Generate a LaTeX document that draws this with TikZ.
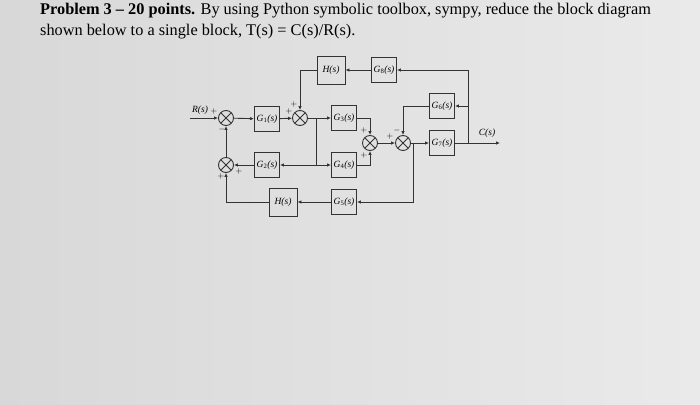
\documentclass[tikz,border=0pt]{standalone}
\usepackage{fontspec}
\setmainfont{Liberation Serif}
\usetikzlibrary{arrows.meta,calc}
\definecolor{ln}{HTML}{333333}
\definecolor{bgL}{HTML}{D8D8D8}
\definecolor{bgR}{HTML}{EAEAEA}
\tikzset{
  blk/.style={rectangle, draw=ln, line width=0.9pt, inner sep=0pt, minimum width=25pt, minimum height=25pt, font=\fontsize{9.5}{10}\selectfont},
  hblk/.style={blk, minimum width=28pt, minimum height=28pt},
  sum/.style={circle, draw=ln, line width=0.9pt, inner sep=0pt, minimum size=15pt,
    path picture={\draw[ln, line width=0.9pt] (path picture bounding box.north west) -- (path picture bounding box.south east)
      (path picture bounding box.north east) -- (path picture bounding box.south west);}},
  sig/.style={inner sep=0pt, font=\fontsize{8}{9}\selectfont},
  lbl/.style={inner sep=1pt, font=\fontsize{9.5}{10}\selectfont},
  ar/.style={draw=ln, line width=0.9pt, -{Latex[length=4pt,width=3.5pt]}},
}
\newcommand{\tf}[2]{\textit{#1}\textsubscript{#2}\textit{(s)}}

\begin{document}
\begin{tikzpicture}[x=1pt, y=-1pt]
  \useasboundingbox (0,0) rectangle (700,404);
  \shade[left color=bgL, right color=bgR] (0,0) rectangle (700,404);
  % problem text
  \node[anchor=base west, inner sep=0pt, font=\fontsize{16.3}{19}\selectfont] (ln1) at (40,15)
    {\textbf{Problem 3 -- 20 points.} By using Python symbolic toolbox, sympy, reduce the block diagram};
  \node[anchor=base west, inner sep=0pt, font=\fontsize{16.3}{19}\selectfont] (ln2) at (40,35)
    {shown below to a single block, T(s) = C(s)/R(s).};
  % blocks and summing points
  \node[sum] (s1) at (226,118) {};
  \node[blk] (g1) at (267,119) {\tf{G}{1}};
  \node[sum] (s2) at (300,118) {};
  \node[hblk] (h1) at (331,70) {\textit{H(s)}};
  \node[blk] (g8) at (384,70) {\tf{G}{8}};
  \node[blk] (g3) at (344,118) {\tf{G}{3}};
  \node[blk] (g4) at (344,165) {\tf{G}{4}};
  \node[blk] (g5) at (344,202) {\tf{G}{5}};
  \node[hblk] (h2) at (283,202) {\textit{H(s)}};
  \node[blk] (g2) at (267,165) {\tf{G}{2}};
  \node[sum] (s5) at (226,165) {};
  \node[sum] (s3) at (370,143) {};
  \node[sum] (s4) at (403,143) {};
  \node[blk] (g6) at (442,106) {\tf{G}{6}};
  \node[blk] (g7) at (442,143) {\tf{G}{7}};
  \coordinate (rin) at (190,118);
  \coordinate (b1) at (316,118);
  \coordinate (b2) at (413,143);
  \coordinate (b3) at (468,143);
  \coordinate (cout) at (500,143);
  \node[lbl, anchor=south] (rl) at (200,116) {\textit{R(s)}};
  \node[lbl, anchor=south] (cl) at (487,139) {\textit{C(s)}};
  % signs
  \foreach \n/\p/\t in {a/{214,111}/$+$, b/{222,129}/$-$, c/{289,111}/$+$, d/{294,104}/$+$,
      e/{239,171}/$+$, f/{221,176}/$+$, g/{364,130}/$+$, h/{364,155}/$+$, i/{397,130}/$-$, j/{390,136}/$+$}
    \node[sig] (sg\n) at (\p) {\t};
  % connections
  \draw[ar] (rin) -- (s1);
  \draw[ar] (s1) -- (g1);
  \draw[ar] (g1) -- (s2);
  \draw[ar] (s2) -- (g3);
  \draw[ar] (b1) |- (g2);
  \draw[ar] (b1) |- (g4);
  \draw[ar] (g2) -- (s5);
  \draw[ar] (s5) -- (s1);
  \draw[ar] (g3) -| (s3);
  \draw[ar] (g4) -| (s3);
  \draw[ar] (s3) -- (s4);
  \draw[ar] (s4) -- (g7);
  \draw[ar] (g7) -- (cout);
  \draw[ar] (b3) |- (g8);
  \draw[ar] (b3) |- (g6);
  \draw[ar] (g8) -- (h1);
  \draw[ar] (h1) -| (s2);
  \draw[ar] (g6) -| (s4);
  \draw[ar] (b2) |- (g5);
  \draw[ar] (g5) -- (h2);
  \draw[ar] (h2) -| (s5);
\end{tikzpicture}
\end{document}
